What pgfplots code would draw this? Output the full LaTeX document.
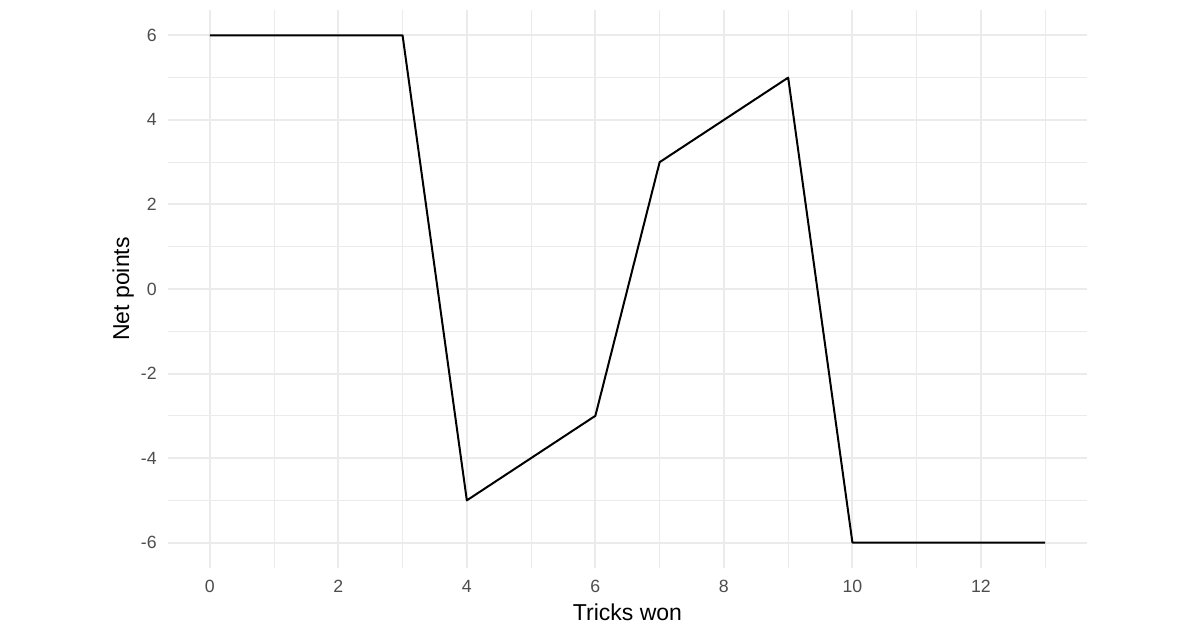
\documentclass[border=0pt]{standalone}
\usepackage{pgfplots}
\pgfplotsset{compat=1.18}
\usepackage{fontspec}
\setmainfont{Liberation Sans}

\definecolor{grid92}{HTML}{EBEBEB}
\definecolor{gray30}{HTML}{4D4D4D}

\begin{document}
\begin{tikzpicture}
\path[use as bounding box, fill=white] (0,0) rectangle (600bp,315bp);

\begin{axis}[%
at={(84bp,31bp)},
anchor=south west,
width=459.5bp,
height=279bp,
scale only axis,
xmin=-0.65, xmax=13.65,
ymin=-6.6, ymax=6.6,
axis line style={draw=none},
major tick length=0pt,
minor tick length=0pt,
xtick={0,2,4,6,8,10,12},
xticklabels={0,2,4,6,8,10,12},
minor xtick={1,3,5,7,9,11,13},
ytick={-6,-4,-2,0,2,4,6},
yticklabels={-6,-4,-2,0,2,4,6},
minor ytick={-5,-3,-1,1,3,5},
grid=both,
major grid style={draw=grid92, line width=1bp},
minor grid style={draw=grid92, line width=0.5bp},
tick label style={font=\fontsize{8.85bp}{10bp}\selectfont, text=gray30},
xticklabel style={anchor=base, yshift=-12.3bp},
yticklabel style={anchor=east, inner sep=0pt, xshift=-5.5bp},
xlabel={Tricks won},
ylabel={Net points},
label style={font=\fontsize{11.5bp}{13bp}\selectfont, text=black},
xlabel style={at={(axis description cs:0.5,0)}, anchor=base, yshift=-26bp},
ylabel style={at={([xshift=-19.5bp]axis description cs:0,0.5)}, anchor=base},
]
\addplot[black, line width=1bp, line join=round] coordinates {
(0,6) (1,6) (2,6) (3,6) (4,-5) (5,-4) (6,-3) (7,3) (8,4) (9,5) (10,-6) (11,-6) (12,-6) (13,-6)
};
\end{axis}
\end{tikzpicture}
\end{document}
